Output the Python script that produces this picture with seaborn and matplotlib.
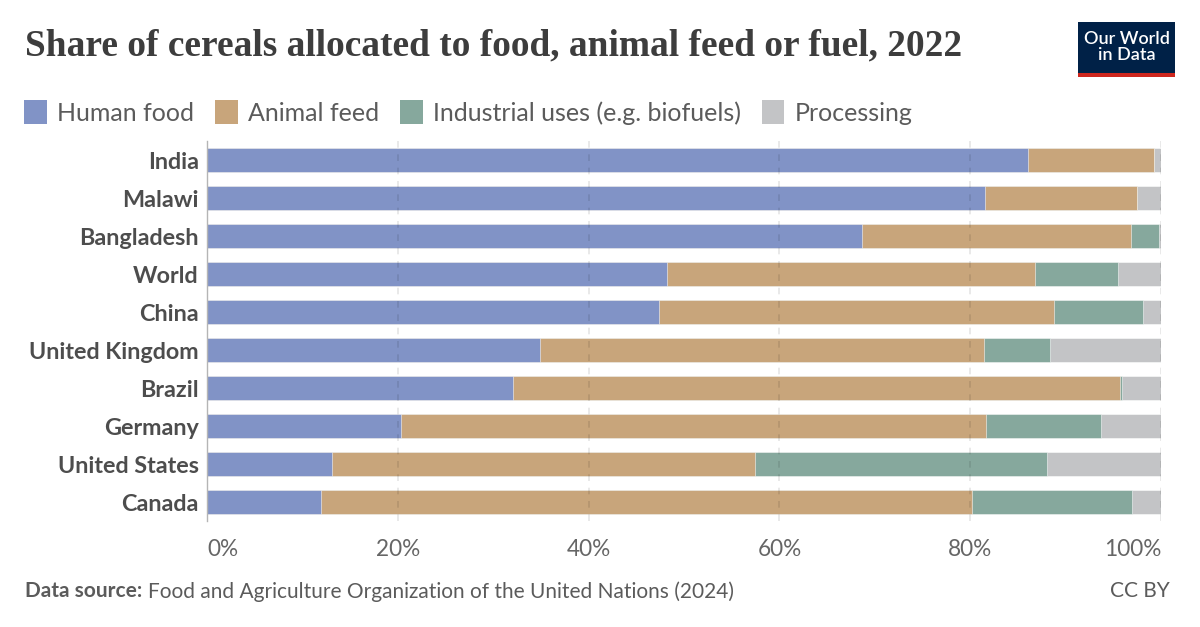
import matplotlib
matplotlib.use("Agg")
import matplotlib.pyplot as plt
import matplotlib.patches as mpatches
import seaborn as sns
import pandas as pd
import numpy as np

countries = ["India", "Malawi", "Bangladesh", "World", "China", "United Kingdom",
             "Brazil", "Germany", "United States", "Canada"]
human_food = [86.1, 81.6, 68.7, 48.2, 47.4, 34.9, 32.1, 20.3, 13.1, 12.0]
animal_feed = [13.2, 15.9, 28.2, 38.6, 41.4, 46.5, 63.6, 61.4, 44.3, 68.2]
industrial = [0.0, 0.0, 2.9, 8.7, 9.3, 7.0, 0.2, 12.0, 30.7, 16.8]
processing = [0.7, 2.5, 0.2, 4.5, 1.9, 11.6, 4.1, 6.3, 11.9, 3.0]

series_names = ["Human food", "Animal feed", "Industrial uses (e.g. biofuels)", "Processing"]
colors = ["#8193C6", "#C8A57B", "#86A89D", "#C3C4C6"]
xticks = [0, 20, 40, 60, 80, 100]
xtick_labels = ["0%", "20%", "40%", "60%", "80%", "100%"]

sns.set_theme(style="white")
plt.rcParams["font.family"] = ["Lato", "DejaVu Sans"]

df = pd.DataFrame({"country": countries, "Human food": human_food,
                   "Animal feed": animal_feed,
                   "Industrial uses (e.g. biofuels)": industrial,
                   "Processing": processing})
cum = df[series_names].cumsum(axis=1)

fig = plt.figure(figsize=(12, 6.27), dpi=100)
ax = fig.add_axes([0.1725, 0.169, 0.795, 0.606])

for name, col in reversed(list(zip(series_names, colors))):
    sns.barplot(x=cum[name], y=df["country"], color=col, orient="h",
                width=0.64, ax=ax, edgecolor=(1, 1, 1, 0.6), linewidth=0.6,
                saturation=1, zorder=2)

ax.set_xlim(0, 100)
ax.set_ylim(9.5, -0.5)
ax.set_xlabel("")
ax.set_ylabel("")
for s in ["top", "right", "bottom"]:
    ax.spines[s].set_visible(False)
ax.spines["left"].set_color("#b5b5b5")
ax.spines["left"].set_linewidth(1)
ax.spines["left"].set_zorder(4)

for xv in xticks[1:]:
    ax.axvline(xv, color=(0, 0, 0, 0.10), linewidth=1.2, linestyle=(0, (4, 4)), zorder=3)

ax.set_xticks(xticks)
ax.set_xticklabels(xtick_labels)
ax.tick_params(axis="x", length=0, pad=13, labelsize=16.3, labelcolor="#666666")
labels = ax.get_xticklabels()
labels[0].set_horizontalalignment("left")
labels[-1].set_horizontalalignment("right")
ax.tick_params(axis="y", length=0, pad=6, labelsize=16.8, labelcolor="#4d4d4d")
for t in ax.get_yticklabels():
    t.set_fontweight("bold")

handles = [mpatches.Patch(facecolor=c, edgecolor="none", label=n) for n, c in zip(series_names, colors)]
fig.legend(handles=handles, loc="center left", bbox_to_anchor=(0.012, 0.8206), ncol=4,
           frameon=False, fontsize=18, labelcolor="#5b5b5b", handlelength=0.9,
           handleheight=1.05, handletextpad=0.4, columnspacing=0.85, borderaxespad=0)

fig.text(0.0208, 0.927, "Share of cereals allocated to food, animal feed or fuel, 2022",
         fontsize=26.9, fontweight="bold", family=["Liberation Serif", "DejaVu Serif"],
         color="#3d3d3d", va="center", ha="left")

t1 = fig.text(0.0208, 0.057, "Data source:", fontsize=15, fontweight="bold",
              color="#5b5b5b", va="center", ha="left")
fig.canvas.draw()
bb = t1.get_window_extent(fig.canvas.get_renderer())
fig.text((bb.x1 + 6) / 1200, 0.057,
         "Food and Agriculture Organization of the United Nations (2024)",
         fontsize=15, color="#5b5b5b", va="center", ha="left")
fig.text(0.975, 0.057, "CC BY", fontsize=15, color="#5b5b5b", va="center", ha="right")

lx0, lx1 = 1078 / 1200, 1175 / 1200
ly_top, ly_red, ly_bot = 1 - 22 / 627, 1 - 73 / 627, 1 - 77 / 627
fig.patches.append(mpatches.Rectangle((lx0, ly_red), lx1 - lx0, ly_top - ly_red,
                                      transform=fig.transFigure, facecolor="#002147",
                                      edgecolor="none"))
fig.patches.append(mpatches.Rectangle((lx0, ly_bot), lx1 - lx0, ly_red - ly_bot,
                                      transform=fig.transFigure, facecolor="#CE261E",
                                      edgecolor="none"))
fig.text((lx0 + lx1) / 2, (ly_top + ly_red) / 2, "Our World\nin Data", fontsize=13,
         color="white", ha="center", va="center", linespacing=1.0, fontweight="semibold")

fig.savefig("out.png", dpi=100)
